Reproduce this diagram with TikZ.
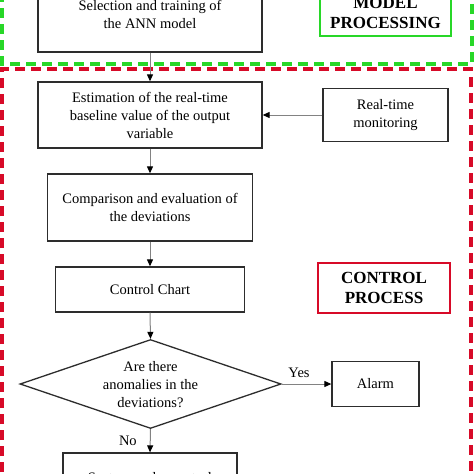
\documentclass[tikz,border=0pt]{standalone}
\usepackage{fontspec}
\setmainfont{Liberation Serif}
\usetikzlibrary{arrows.meta,shapes.geometric}
\definecolor{dgreen}{RGB}{40,215,40}
\definecolor{dred}{RGB}{215,10,40}
\definecolor{edge}{RGB}{45,45,45}
\definecolor{conn}{RGB}{130,130,130}
\tikzset{
  stepbox/.style={draw=edge,line width=1.3pt,fill=white,align=center,inner sep=0pt,font=\fontsize{14.5}{18}\selectfont},
  labelbox/.style={line width=2.6pt,fill=white,align=center,inner sep=0pt,font=\fontsize{17}{20}\selectfont\bfseries},
  flow/.style={draw=conn,line width=1pt,-{Triangle[length=7pt,width=6pt,color=black]}},
  zone/.style={line width=3.2pt,dash pattern=on 10pt off 6pt},
  txt/.style={font=\fontsize{14.5}{18}\selectfont,align=center,inner sep=0pt}
}
\begin{document}
\begin{tikzpicture}[x=1pt,y=-1pt]
\useasboundingbox (0,0) rectangle (474,474);
% zones
\draw[zone,draw=dgreen] (2,-40) -- (2,64) -- (472,64) -- (472,-40);
\draw[zone,draw=dred] (2,520) -- (2,69) -- (471,69) -- (471,520);
% labels
\node[labelbox,draw=dgreen,minimum width=131pt,minimum height=64pt] (mp) at (385.5,4) {};
\node[labelbox,anchor=base] (mpt) at (385.5,28) {\strut MODEL\\PROCESSING};
\node[labelbox,draw=dred,minimum width=132pt,minimum height=50pt] (cp) at (384,288) {CONTROL\\PROCESS};
% boxes
\node[stepbox,minimum width=224pt,minimum height=76pt] (sel) at (150,14) {Selection and training of\\the ANN model};
\node[stepbox,minimum width=224pt,minimum height=66pt] (est) at (150,115) {Estimation of the real-time\\baseline value of the output\\variable};
\node[stepbox,minimum width=125pt,minimum height=53pt] (mon) at (385.5,115) {Real-time\\monitoring};
\node[stepbox,minimum width=205pt,minimum height=67pt] (cmp) at (150,207.5) {Comparison and evaluation of\\the deviations};
\node[stepbox,minimum width=189pt,minimum height=45pt] (cc) at (150,289.5) {Control Chart};
\node[draw=edge,line width=1.3pt,fill=white,shape=diamond,inner sep=0pt,minimum width=261pt,minimum height=89pt] (dec) at (150.5,384) {};
\node[txt] (dect) at (150.5,385) {Are there\\anomalies in the\\deviations?};
\node[stepbox,minimum width=87pt,minimum height=45pt] (al) at (375.5,384) {Alarm};
\node[draw=edge,line width=1.3pt,fill=white,minimum width=174pt,minimum height=60pt] (sys) at (150,483) {};
\node[txt,anchor=base] (syst) at (150,482) {System under control};
% connectors
\draw[flow] (sel.south) -- (est.north);
\draw[flow] (mon.west) -- (est.east);
\draw[flow] (est.south) -- (cmp.north);
\draw[flow] (cmp.south) -- (cc.north);
\draw[flow] (cc.south) -- (dec.north);
\draw[flow] (dec.east) -- node[txt,above=6pt,pos=0.35] (yes) {Yes} (al.west);
\draw[flow] (dec.south) -- node[txt,left=13pt,pos=0.5] (no) {No} (sys.north);
\end{tikzpicture}
\end{document}
